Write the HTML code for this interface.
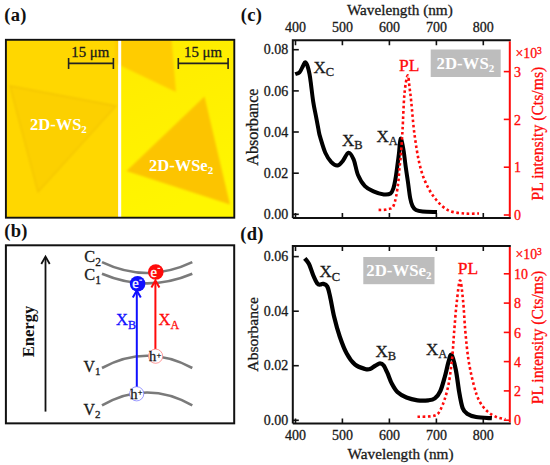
<!DOCTYPE html>
<html><head><meta charset="utf-8"><style>
html,body{margin:0;padding:0;background:#fff;width:550px;height:465px;overflow:hidden}
svg{display:block;font-family:"Liberation Serif", serif}
</style></head><body>
<svg width="550" height="465" viewBox="0 0 550 465">
<text x="4.3" y="21.2" font-size="18.5" font-weight="bold" fill="#111" letter-spacing="0.3">(a)</text>
<defs><filter id="bl" x="-10%" y="-10%" width="120%" height="120%"><feGaussianBlur stdDeviation="0.9"/></filter><linearGradient id="rg" x1="0" y1="0" x2="0.3" y2="1"><stop offset="0" stop-color="#ffea00"/><stop offset="1" stop-color="#fff600"/></linearGradient><clipPath id="ca"><rect x="6" y="40" width="228" height="178"/></clipPath></defs>
<rect x="6" y="40" width="112.5" height="178" fill="#ffd700"/>
<rect x="121" y="40" width="113" height="178" fill="url(#rg)"/>
<g clip-path="url(#ca)"><g filter="url(#bl)">
<polygon points="10,86 116,106 38,192" fill="#fcd000" stroke="#f3c500" stroke-width="1.3"/>
<polygon points="115,38 171.5,38 176,92 115,63" fill="#ffcc00"/>
<polygon points="204.5,96.5 126.5,171 230,204.5" fill="#fcc400"/>
</g></g>
<rect x="118.2" y="40" width="3" height="178" fill="#ffffff"/>
<rect x="5.9" y="39.8" width="228.4" height="177.9" fill="none" stroke="#111" stroke-width="1.9"/>
<path d="M68.6,63.4 H113.4 M68.6,58 V69 M113.4,58 V69" stroke="#222" stroke-width="1.6" fill="none"/>
<path d="M178.3,63.4 H228.1 M178.3,58 V69 M228.1,58 V69" stroke="#222" stroke-width="1.6" fill="none"/>
<text x="71.3" y="57.3" font-size="14.8" fill="#1a1a1a" stroke="#1a1a1a" stroke-width="0.3">15 μm</text>
<text x="184" y="57.3" font-size="14.8" fill="#1a1a1a" stroke="#1a1a1a" stroke-width="0.3">15 μm</text>
<text x="30" y="130" font-size="16.5" font-weight="bold" fill="#fff">2D-WS<tspan font-size="11" dy="3">2</tspan></text>
<text x="149" y="170.7" font-size="16.5" font-weight="bold" fill="#fff">2D-WSe<tspan font-size="11" dy="3">2</tspan></text>
<text x="4.3" y="236.6" font-size="18.5" font-weight="bold" fill="#111" letter-spacing="0.3">(b)</text>
<rect x="5.9" y="245.3" width="228.3" height="178.05" fill="none" stroke="#111" stroke-width="2"/>
<path d="M45.5,411.6 V257" stroke="#111" stroke-width="1.8" fill="none"/>
<path d="M41.3,264 L45.5,256.5 L49.7,264" stroke="#111" stroke-width="1.8" fill="none"/>
<text transform="translate(33.8,357.2) rotate(-90)" font-size="16.5" font-weight="bold" fill="#111">Energy</text>
<path d="M102,262.2 Q147,283.8 192.3,262.2" stroke="#7a7a7a" stroke-width="2.6" fill="none"/>
<path d="M102,273.8 Q147,292.99999999999994 192.3,273.8" stroke="#7a7a7a" stroke-width="2.6" fill="none"/>
<path d="M102,368 Q147,343.6 192.3,368" stroke="#7a7a7a" stroke-width="2.6" fill="none"/>
<path d="M102,405.4 Q147,379.6 192.3,405.4" stroke="#7a7a7a" stroke-width="2.6" fill="none"/>
<text x="84.3" y="262.3" font-size="16.3" fill="#1a1a1a" stroke="#1a1a1a" stroke-width="0.3">C<tspan font-size="11.5" dy="3.2">2</tspan></text>
<text x="84.3" y="280.4" font-size="16.3" fill="#1a1a1a" stroke="#1a1a1a" stroke-width="0.3">C<tspan font-size="11.5" dy="3.2">1</tspan></text>
<text x="83.6" y="372.4" font-size="15.8" fill="#1a1a1a" stroke="#1a1a1a" stroke-width="0.3">V<tspan font-size="11" dy="3">1</tspan></text>
<text x="83.6" y="415" font-size="15.8" fill="#1a1a1a" stroke="#1a1a1a" stroke-width="0.3">V<tspan font-size="11" dy="3">2</tspan></text>
<path d="M136.8,393 V291" stroke="#1010ff" stroke-width="2" fill="none"/>
<path d="M132.8,297.5 L136.8,290.5 L140.8,297.5" stroke="#1010ff" stroke-width="2" fill="none"/>
<path d="M155.4,356 V281" stroke="#ff0a0a" stroke-width="2" fill="none"/>
<path d="M151.4,287.5 L155.4,280.5 L159.4,287.5" stroke="#ff0a0a" stroke-width="2" fill="none"/>
<circle cx="137.6" cy="283.8" r="7.8" fill="#1010ff"/>
<circle cx="155.8" cy="272" r="7.8" fill="#ff0a0a"/>
<text x="132.3" y="288.3" font-size="14.5" fill="#fff" stroke="#fff" stroke-width="0.3">e</text><rect x="139.4" y="279.6" width="2.8" height="1.1" fill="#fff"/>
<text x="150.4" y="276.5" font-size="14.5" fill="#fff" stroke="#fff" stroke-width="0.3">e</text><rect x="157.4" y="267.8" width="2.8" height="1.1" fill="#fff"/>
<circle cx="155.6" cy="356.2" r="7.1" fill="#fff" stroke="#ff7070" stroke-width="0.7"/>
<circle cx="136.7" cy="393.8" r="7.1" fill="#fff" stroke="#7070ff" stroke-width="0.7"/>
<text x="149" y="361.2" font-size="14.5" fill="#1a1a1a" stroke="#1a1a1a" stroke-width="0.3">h</text><text x="156.6" y="357.6" font-size="8.5" fill="#1a1a1a" stroke="#1a1a1a" stroke-width="0.3">+</text>
<text x="130.2" y="398.8" font-size="14.5" fill="#1a1a1a" stroke="#1a1a1a" stroke-width="0.3">h</text><text x="137.8" y="395.2" font-size="8.5" fill="#1a1a1a" stroke="#1a1a1a" stroke-width="0.3">+</text>
<text x="116" y="325.3" font-size="16.5" fill="#1010ff" stroke="#1010ff" stroke-width="0.3">X<tspan font-size="12" dy="3.3">B</tspan></text>
<text x="158.5" y="325.3" font-size="16.5" fill="#ff0a0a" stroke="#ff0a0a" stroke-width="0.3">X<tspan font-size="12" dy="3.3">A</tspan></text>
<path d="M292.8,217.9 V40.3 H510.8" stroke="#111" stroke-width="2" fill="none"/>
<path d="M292.8,217.9 H510.8" stroke="#111" stroke-width="2" fill="none"/>
<path d="M509.8,41.3 V216.9" stroke="#ff0a0a" stroke-width="2" fill="none"/>
<path d="M295.5,40.3 v5 M295.5,217.9 v-5" stroke="#111" stroke-width="1.6"/>
<path d="M342.4,40.3 v5 M342.4,217.9 v-5" stroke="#111" stroke-width="1.6"/>
<path d="M389.4,40.3 v5 M389.4,217.9 v-5" stroke="#111" stroke-width="1.6"/>
<path d="M436.4,40.3 v5 M436.4,217.9 v-5" stroke="#111" stroke-width="1.6"/>
<path d="M483.3,40.3 v5 M483.3,217.9 v-5" stroke="#111" stroke-width="1.6"/>
<path d="M292.8,214.3 h6" stroke="#111" stroke-width="1.6"/>
<text x="288.2" y="219.0" font-size="14" fill="#1a1a1a" text-anchor="end" stroke="#1a1a1a" stroke-width="0.3">0.00</text>
<path d="M292.8,173.2 h6" stroke="#111" stroke-width="1.6"/>
<text x="288.2" y="177.8" font-size="14" fill="#1a1a1a" text-anchor="end" stroke="#1a1a1a" stroke-width="0.3">0.02</text>
<path d="M292.8,132.0 h6" stroke="#111" stroke-width="1.6"/>
<text x="288.2" y="136.7" font-size="14" fill="#1a1a1a" text-anchor="end" stroke="#1a1a1a" stroke-width="0.3">0.04</text>
<path d="M292.8,90.9 h6" stroke="#111" stroke-width="1.6"/>
<text x="288.2" y="95.6" font-size="14" fill="#1a1a1a" text-anchor="end" stroke="#1a1a1a" stroke-width="0.3">0.06</text>
<path d="M292.8,49.7 h6" stroke="#111" stroke-width="1.6"/>
<text x="288.2" y="54.4" font-size="14" fill="#1a1a1a" text-anchor="end" stroke="#1a1a1a" stroke-width="0.3">0.08</text>
<path d="M509.8,215.0 h-6" stroke="#ff0a0a" stroke-width="1.6"/>
<text x="514" y="220.1" font-size="14" fill="#ff0a0a" stroke="#ff0a0a" stroke-width="0.3">0</text>
<path d="M509.8,167.2 h-6" stroke="#ff0a0a" stroke-width="1.6"/>
<text x="514" y="172.3" font-size="14" fill="#ff0a0a" stroke="#ff0a0a" stroke-width="0.3">1</text>
<path d="M509.8,119.4 h-6" stroke="#ff0a0a" stroke-width="1.6"/>
<text x="514" y="124.5" font-size="14" fill="#ff0a0a" stroke="#ff0a0a" stroke-width="0.3">2</text>
<path d="M509.8,71.6 h-6" stroke="#ff0a0a" stroke-width="1.6"/>
<text x="514" y="76.7" font-size="14" fill="#ff0a0a" stroke="#ff0a0a" stroke-width="0.3">3</text>
<text x="515.5" y="58.099999999999994" font-size="13.8" fill="#ff0a0a" stroke="#ff0a0a" stroke-width="0.3">×10<tspan font-size="9.5" dy="-4.6">3</tspan></text>
<text transform="translate(258.3,127.1) rotate(-90)" font-size="16.2" fill="#1a1a1a" text-anchor="middle" stroke="#1a1a1a" stroke-width="0.3">Absorbance</text>
<text transform="translate(543.3,133.6) rotate(-90)" font-size="15.7" fill="#ff0a0a" text-anchor="middle" stroke="#ff0a0a" stroke-width="0.3">PL intensity (Cts/ms)</text>
<path d="M295.2,74.1 C295.9,73.8 298.2,73.8 299.5,72.4 C300.8,71.1 302.1,67.7 303.0,66.0 C303.9,64.3 304.4,62.3 305.1,62.3 C305.9,62.3 306.8,64.0 307.5,66.0 C308.2,68.0 308.9,70.9 309.5,74.0 C310.1,77.1 310.4,79.8 311.0,84.4 C311.6,89.0 312.4,96.4 313.2,101.6 C314.0,106.8 314.9,110.8 315.8,115.4 C316.7,120.0 317.7,125.6 318.4,129.2 C319.1,132.8 319.0,133.3 320.2,137.2 C321.4,141.1 323.4,148.5 325.3,152.7 C327.2,156.9 329.3,160.0 331.3,162.2 C333.3,164.3 335.5,165.8 337.4,165.6 C339.3,165.4 340.6,163.5 342.5,161.3 C344.4,159.2 346.6,153.0 348.5,152.7 C350.4,152.4 352.1,155.9 353.7,159.6 C355.3,163.3 356.1,170.6 358.0,175.0 C359.9,179.4 362.3,183.5 364.9,186.2 C367.5,188.9 370.4,190.0 373.5,191.4 C376.6,192.8 381.0,194.2 383.8,194.5 C386.6,194.8 388.9,194.6 390.5,193.5 C392.1,192.4 392.7,190.4 393.5,188.0 C394.3,185.6 394.7,183.1 395.4,179.2 C396.1,175.3 396.9,169.0 397.5,164.6 C398.1,160.2 398.5,157.2 399.0,152.9 C399.5,148.6 399.9,139.2 400.6,138.7 C401.4,138.2 402.7,145.4 403.5,150.0 C404.3,154.6 404.9,160.8 405.6,166.0 C406.3,171.2 407.0,175.6 407.8,181.0 C408.6,186.4 409.4,194.0 410.2,198.2 C411.0,202.4 411.5,204.0 412.5,206.0 C413.5,208.0 414.3,209.1 416.0,210.0 C417.7,210.9 419.1,211.2 422.6,211.5 C426.1,211.8 434.6,211.9 437.0,212.0" stroke="#000" stroke-width="4" fill="none" stroke-linejoin="round"/>
<path d="M378.6,209.9 C379.5,209.9 382.1,210.0 383.7,209.9 C385.3,209.8 386.6,209.5 388.0,209.1 C389.4,208.7 391.3,208.8 392.4,207.7 C393.5,206.6 394.0,204.4 394.6,202.6 C395.2,200.8 395.6,199.1 396.1,196.7 C396.6,194.3 397.1,190.9 397.5,188.0 C397.9,185.1 398.3,182.4 398.6,179.2 C398.9,176.0 399.1,172.4 399.4,169.0 C399.7,165.6 400.1,162.8 400.5,158.8 C400.9,154.8 401.2,150.0 401.6,145.0 C402.0,140.0 402.1,137.1 402.6,128.7 C403.1,120.3 403.6,103.3 404.4,94.4 C405.2,85.5 406.7,76.6 407.6,75.5 C408.5,74.4 409.0,83.5 409.6,88.0 C410.2,92.5 410.5,94.5 411.3,102.3 C412.1,110.0 413.1,124.3 414.5,134.5 C415.9,144.7 417.5,155.4 419.4,163.5 C421.3,171.6 423.1,177.0 425.8,182.9 C428.5,188.8 431.7,194.4 435.5,199.0 C439.3,203.6 443.6,207.9 448.4,210.3 C453.2,212.7 459.4,213.0 464.5,213.5 C469.6,214.0 476.6,213.5 479.0,213.5" stroke="#ff0a0a" stroke-width="2.6" fill="none" stroke-dasharray="2.6 2.6"/>
<text x="313.5" y="72.6" font-size="17" fill="#1a1a1a" stroke="#1a1a1a" stroke-width="0.3">X<tspan font-size="12.5" dy="3.2">C</tspan></text>
<text x="342" y="145.8" font-size="17" fill="#1a1a1a" stroke="#1a1a1a" stroke-width="0.3">X<tspan font-size="12.5" dy="3.2">B</tspan></text>
<text x="376.5" y="142" font-size="17" fill="#1a1a1a" stroke="#1a1a1a" stroke-width="0.3">X<tspan font-size="12.5" dy="3.2">A</tspan></text>
<text x="399" y="71" font-size="17.5" fill="#ff0a0a" stroke="#ff0a0a" stroke-width="0.3">PL</text>
<rect x="430.7" y="49.5" width="70" height="27.5" fill="#bdbdbd"/><text x="436.5" y="68.8" font-size="16.8" font-weight="bold" fill="#fff">2D-WS<tspan font-size="11" dy="3">2</tspan></text>
<text x="295.5" y="32.4" font-size="14" fill="#1a1a1a" text-anchor="middle" stroke="#1a1a1a" stroke-width="0.3">400</text>
<text x="342.4" y="32.4" font-size="14" fill="#1a1a1a" text-anchor="middle" stroke="#1a1a1a" stroke-width="0.3">500</text>
<text x="389.4" y="32.4" font-size="14" fill="#1a1a1a" text-anchor="middle" stroke="#1a1a1a" stroke-width="0.3">600</text>
<text x="436.4" y="32.4" font-size="14" fill="#1a1a1a" text-anchor="middle" stroke="#1a1a1a" stroke-width="0.3">700</text>
<text x="483.3" y="32.4" font-size="14" fill="#1a1a1a" text-anchor="middle" stroke="#1a1a1a" stroke-width="0.3">800</text>
<text x="346.9" y="14.5" font-size="15.25" fill="#1a1a1a" stroke="#1a1a1a" stroke-width="0.3">Wavelength (nm)</text>
<text x="240.7" y="20.8" font-size="18.5" font-weight="bold" fill="#111" letter-spacing="0.3">(c)</text>
<path d="M292.8,423.5 V246 H510.8" stroke="#111" stroke-width="2" fill="none"/>
<path d="M292.8,423.5 H510.8" stroke="#111" stroke-width="2" fill="none"/>
<path d="M509.8,247 V422.5" stroke="#ff0a0a" stroke-width="2" fill="none"/>
<path d="M295.5,246 v5 M295.5,423.5 v-5" stroke="#111" stroke-width="1.6"/>
<path d="M342.4,246 v5 M342.4,423.5 v-5" stroke="#111" stroke-width="1.6"/>
<path d="M389.4,246 v5 M389.4,423.5 v-5" stroke="#111" stroke-width="1.6"/>
<path d="M436.4,246 v5 M436.4,423.5 v-5" stroke="#111" stroke-width="1.6"/>
<path d="M483.3,246 v5 M483.3,423.5 v-5" stroke="#111" stroke-width="1.6"/>
<path d="M292.8,420.3 h6" stroke="#111" stroke-width="1.6"/>
<text x="288.2" y="425.0" font-size="14" fill="#1a1a1a" text-anchor="end" stroke="#1a1a1a" stroke-width="0.3">0.00</text>
<path d="M292.8,365.7 h6" stroke="#111" stroke-width="1.6"/>
<text x="288.2" y="370.4" font-size="14" fill="#1a1a1a" text-anchor="end" stroke="#1a1a1a" stroke-width="0.3">0.02</text>
<path d="M292.8,311.2 h6" stroke="#111" stroke-width="1.6"/>
<text x="288.2" y="315.9" font-size="14" fill="#1a1a1a" text-anchor="end" stroke="#1a1a1a" stroke-width="0.3">0.04</text>
<path d="M292.8,256.6 h6" stroke="#111" stroke-width="1.6"/>
<text x="288.2" y="261.3" font-size="14" fill="#1a1a1a" text-anchor="end" stroke="#1a1a1a" stroke-width="0.3">0.06</text>
<path d="M509.8,420.2 h-6" stroke="#ff0a0a" stroke-width="1.6"/>
<text x="514" y="425.4" font-size="14" fill="#ff0a0a" stroke="#ff0a0a" stroke-width="0.3">0</text>
<path d="M509.8,390.9 h-6" stroke="#ff0a0a" stroke-width="1.6"/>
<text x="514" y="396.1" font-size="14" fill="#ff0a0a" stroke="#ff0a0a" stroke-width="0.3">2</text>
<path d="M509.8,361.6 h-6" stroke="#ff0a0a" stroke-width="1.6"/>
<text x="514" y="366.8" font-size="14" fill="#ff0a0a" stroke="#ff0a0a" stroke-width="0.3">4</text>
<path d="M509.8,332.4 h-6" stroke="#ff0a0a" stroke-width="1.6"/>
<text x="514" y="337.5" font-size="14" fill="#ff0a0a" stroke="#ff0a0a" stroke-width="0.3">6</text>
<path d="M509.8,303.1 h-6" stroke="#ff0a0a" stroke-width="1.6"/>
<text x="514" y="308.2" font-size="14" fill="#ff0a0a" stroke="#ff0a0a" stroke-width="0.3">8</text>
<path d="M509.8,273.8 h-6" stroke="#ff0a0a" stroke-width="1.6"/>
<text x="514" y="278.9" font-size="14" fill="#ff0a0a" stroke="#ff0a0a" stroke-width="0.3">10</text>
<text x="515.5" y="259.1" font-size="13.8" fill="#ff0a0a" stroke="#ff0a0a" stroke-width="0.3">×10<tspan font-size="9.5" dy="-4.6">3</tspan></text>
<text transform="translate(258.3,334.4) rotate(-90)" font-size="15.6" fill="#1a1a1a" text-anchor="middle" stroke="#1a1a1a" stroke-width="0.3">Absorbance</text>
<text transform="translate(543.3,337.5) rotate(-90)" font-size="15.7" fill="#ff0a0a" text-anchor="middle" stroke="#ff0a0a" stroke-width="0.3">PL intensity (Cts/ms)</text>
<path d="M304.8,258.4 C305.5,259.3 307.6,261.2 309.0,264.0 C310.4,266.8 311.8,271.9 313.2,275.2 C314.6,278.5 316.2,282.1 317.4,283.6 C318.6,285.2 319.6,284.5 320.5,284.5 C321.4,284.5 321.9,283.5 323.0,283.8 C324.1,284.1 326.0,284.3 327.2,286.4 C328.4,288.5 328.8,291.1 330.0,296.2 C331.2,301.3 332.6,310.4 334.2,317.1 C335.8,323.9 337.7,330.6 339.8,336.7 C341.9,342.8 344.1,348.8 346.7,353.5 C349.2,358.2 352.1,362.1 355.1,364.7 C358.1,367.3 362.4,368.2 364.9,368.9 C367.4,369.6 368.2,369.6 370.0,369.0 C371.8,368.4 373.8,366.5 375.5,365.6 C377.2,364.7 378.6,363.4 380.0,363.4 C381.4,363.4 382.5,364.0 383.7,365.6 C384.9,367.2 386.0,369.9 387.4,372.9 C388.8,375.9 390.2,380.6 391.9,383.8 C393.6,387.0 395.0,389.7 397.4,392.0 C399.8,394.3 403.1,396.1 406.5,397.5 C409.9,398.9 413.9,399.8 417.5,400.3 C421.1,400.8 425.5,400.6 428.4,400.3 C431.3,400.0 432.8,399.9 434.8,398.4 C436.8,396.9 438.6,394.8 440.3,391.1 C442.0,387.5 443.5,381.4 444.9,376.5 C446.3,371.6 447.4,365.5 448.5,361.9 C449.6,358.3 450.3,353.7 451.5,355.0 C452.7,356.3 454.5,363.5 455.8,369.7 C457.1,375.9 458.1,385.8 459.2,392.2 C460.3,398.6 461.3,404.4 462.6,408.0 C463.9,411.6 464.9,412.2 467.1,413.7 C469.4,415.2 472.0,416.2 476.1,417.0 C480.2,417.8 489.3,418.0 491.9,418.2" stroke="#000" stroke-width="4.2" fill="none" stroke-linejoin="round"/>
<path d="M417.5,416.7 C420.2,416.6 430.0,417.0 433.9,415.8 C437.8,414.6 438.4,413.9 440.7,409.3 C443.0,404.7 445.9,396.3 447.8,388.0 C449.7,379.7 450.9,369.1 452.0,359.6 C453.1,350.1 453.4,340.6 454.2,331.1 C455.0,321.6 455.7,311.1 456.7,302.7 C457.7,294.3 458.9,280.9 460.0,280.5 C461.1,280.1 462.1,291.6 463.0,300.0 C463.9,308.4 464.4,321.0 465.3,331.0 C466.2,341.0 467.1,350.9 468.5,360.0 C469.9,369.1 472.1,378.6 473.9,385.5 C475.7,392.4 477.2,397.0 479.5,401.3 C481.8,405.6 484.6,408.8 487.4,411.4 C490.2,414.0 493.4,415.7 496.4,417.0 C499.4,418.3 504.0,418.9 505.5,419.3" stroke="#ff0a0a" stroke-width="2.6" fill="none" stroke-dasharray="2.6 2.6"/>
<text x="319.5" y="277.4" font-size="17" fill="#1a1a1a" stroke="#1a1a1a" stroke-width="0.3">X<tspan font-size="12.5" dy="3.2">C</tspan></text>
<text x="375.5" y="356.9" font-size="17" fill="#1a1a1a" stroke="#1a1a1a" stroke-width="0.3">X<tspan font-size="12.5" dy="3.2">B</tspan></text>
<text x="426" y="354.5" font-size="17" fill="#1a1a1a" stroke="#1a1a1a" stroke-width="0.3">X<tspan font-size="12.5" dy="3.2">A</tspan></text>
<text x="457.8" y="273.9" font-size="17.5" fill="#ff0a0a" stroke="#ff0a0a" stroke-width="0.3">PL</text>
<rect x="363.3" y="257" width="71.2" height="27.2" fill="#bdbdbd"/><text x="366.3" y="276.2" font-size="16.8" font-weight="bold" fill="#fff">2D-WSe<tspan font-size="11" dy="3">2</tspan></text>
<text x="295.5" y="439.6" font-size="14" fill="#1a1a1a" text-anchor="middle" stroke="#1a1a1a" stroke-width="0.3">400</text>
<text x="342.4" y="439.6" font-size="14" fill="#1a1a1a" text-anchor="middle" stroke="#1a1a1a" stroke-width="0.3">500</text>
<text x="389.4" y="439.6" font-size="14" fill="#1a1a1a" text-anchor="middle" stroke="#1a1a1a" stroke-width="0.3">600</text>
<text x="436.4" y="439.6" font-size="14" fill="#1a1a1a" text-anchor="middle" stroke="#1a1a1a" stroke-width="0.3">700</text>
<text x="483.3" y="439.6" font-size="14" fill="#1a1a1a" text-anchor="middle" stroke="#1a1a1a" stroke-width="0.3">800</text>
<text x="347.6" y="459.3" font-size="15.25" fill="#1a1a1a" stroke="#1a1a1a" stroke-width="0.3">Wavelength (nm)</text>
<text x="240.3" y="240.2" font-size="18.5" font-weight="bold" fill="#111" letter-spacing="0.3">(d)</text>
</svg>
</body></html>
